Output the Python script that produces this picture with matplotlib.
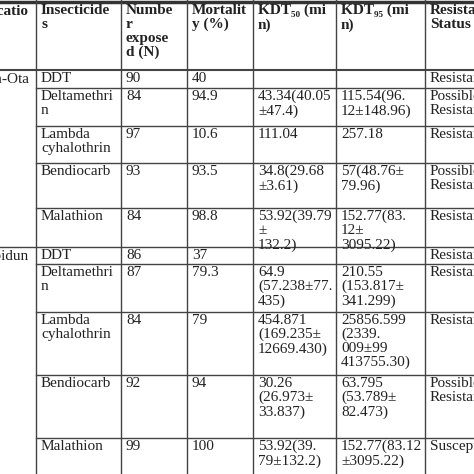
import matplotlib.pyplot as plt
from matplotlib.lines import Line2D

# column left edges / row boundaries in pixels (table is cropped in the reference)
COL_X = [-50, 36, 121, 187, 253, 336, 425, 560]
ROW_Y = [2, 70, 88, 126, 163, 208, 247, 264, 312, 375, 438, 480]

HEADERS = ["Locatio\nn", "Insecticide\ns", "Numbe\nr\nexpose\nd (N)", "Mortalit\ny (%)",
           "KDT₅₀ (mi\nn)", "KDT₉₅ (mi\nn)", "Resistance\nStatus"]

SITES = ["Ifa-Ota", "", "", "", "", "Ogbidun", "", "", "", ""]
INSECTICIDES = ["DDT", "Deltamethri\nn", "Lambda\ncyhalothrin", "Bendiocarb", "Malathion",
                "DDT", "Deltamethri\nn", "Lambda\ncyhalothrin", "Bendiocarb", "Malathion"]
N_EXPOSED = ["90", "84", "97", "93", "84", "86", "87", "84", "92", "99"]
MORTALITY = ["40", "94.9", "10.6", "93.5", "98.8", "37", "79.3", "79", "94", "100"]
KDT50 = ["", "43.34(40.05\n±47.4)", "111.04", "34.8(29.68\n±3.61)", "53.92(39.79\n±\n132.2)",
         "", "64.9\n(57.238±77.\n435)", "454.871\n(169.235±\n12669.430)", "30.26\n(26.973±\n33.837)",
         "53.92(39.\n79±132.2)"]
KDT95 = ["", "115.54(96.\n12±148.96)", "257.18", "57(48.76±\n79.96)", "152.77(83.\n12±\n3095.22)",
         "", "210.55\n(153.817±\n341.299)", "25856.599\n(2339.\n009±99\n413755.30)",
         "63.795\n(53.789±\n82.473)", "152.77(83.12\n±3095.22)"]
STATUS = ["Resistant", "Possible\nResistant", "Resistant", "Possible\nResistant", "Resistant",
          "Resistant", "Resistant", "Resistant", "Possible\nResistant", "Susceptible"]

FONT = ["Liberation Serif", "DejaVu Serif"]
W = H = 474

fig = plt.figure(figsize=(4.74, 4.74), dpi=100)
fig.patch.set_facecolor("white")


def px(x, y):
    return x / W, 1 - y / H


def hline(y, x0, x1, lw=1.0, color="#444444"):
    (a, b), (c, d) = px(x0, y), px(x1, y)
    fig.add_artist(Line2D([a, c], [b, d], lw=lw, color=color))


def vline(x, y0, y1, lw=1.0, color="#444444"):
    (a, b), (c, d) = px(x, y0), px(x, y1)
    fig.add_artist(Line2D([a, c], [b, d], lw=lw, color=color))


def cell(col, top, text, bold=False):
    if col == 0:
        # first column is cropped: right-align its text against the first rule
        x, y = px(COL_X[1] - 7, top + 3)
        ha = "right"
    else:
        x, y = px(COL_X[col] + 5, top + 2)
        ha = "left"
    fig.text(x, y, text, ha=ha, va="top", fontsize=11, family=FONT, multialignment="left",
             fontweight="bold" if bold else "normal", linespacing=1.08, color="#222222")


for c, h in enumerate(HEADERS):
    cell(c, ROW_Y[0], h, bold=True)

columns = [SITES, INSECTICIDES, N_EXPOSED, MORTALITY, KDT50, KDT95, STATUS]
for r in range(len(INSECTICIDES)):
    for c, col in enumerate(columns):
        if col[r]:
            cell(c, ROW_Y[r + 1], col[r])

# grid lines
hline(ROW_Y[0], 0, W, lw=2.5, color="#333333")
hline(ROW_Y[1], 0, W, lw=1.5)
for i, y in enumerate(ROW_Y[2:-1], start=2):
    x0 = 0 if i == 6 else COL_X[1]
    hline(y, x0, W)
for x in COL_X[1:-1]:
    vline(x, 0, H, lw=1.0)

fig.savefig("out.png", dpi=100, facecolor="white")
